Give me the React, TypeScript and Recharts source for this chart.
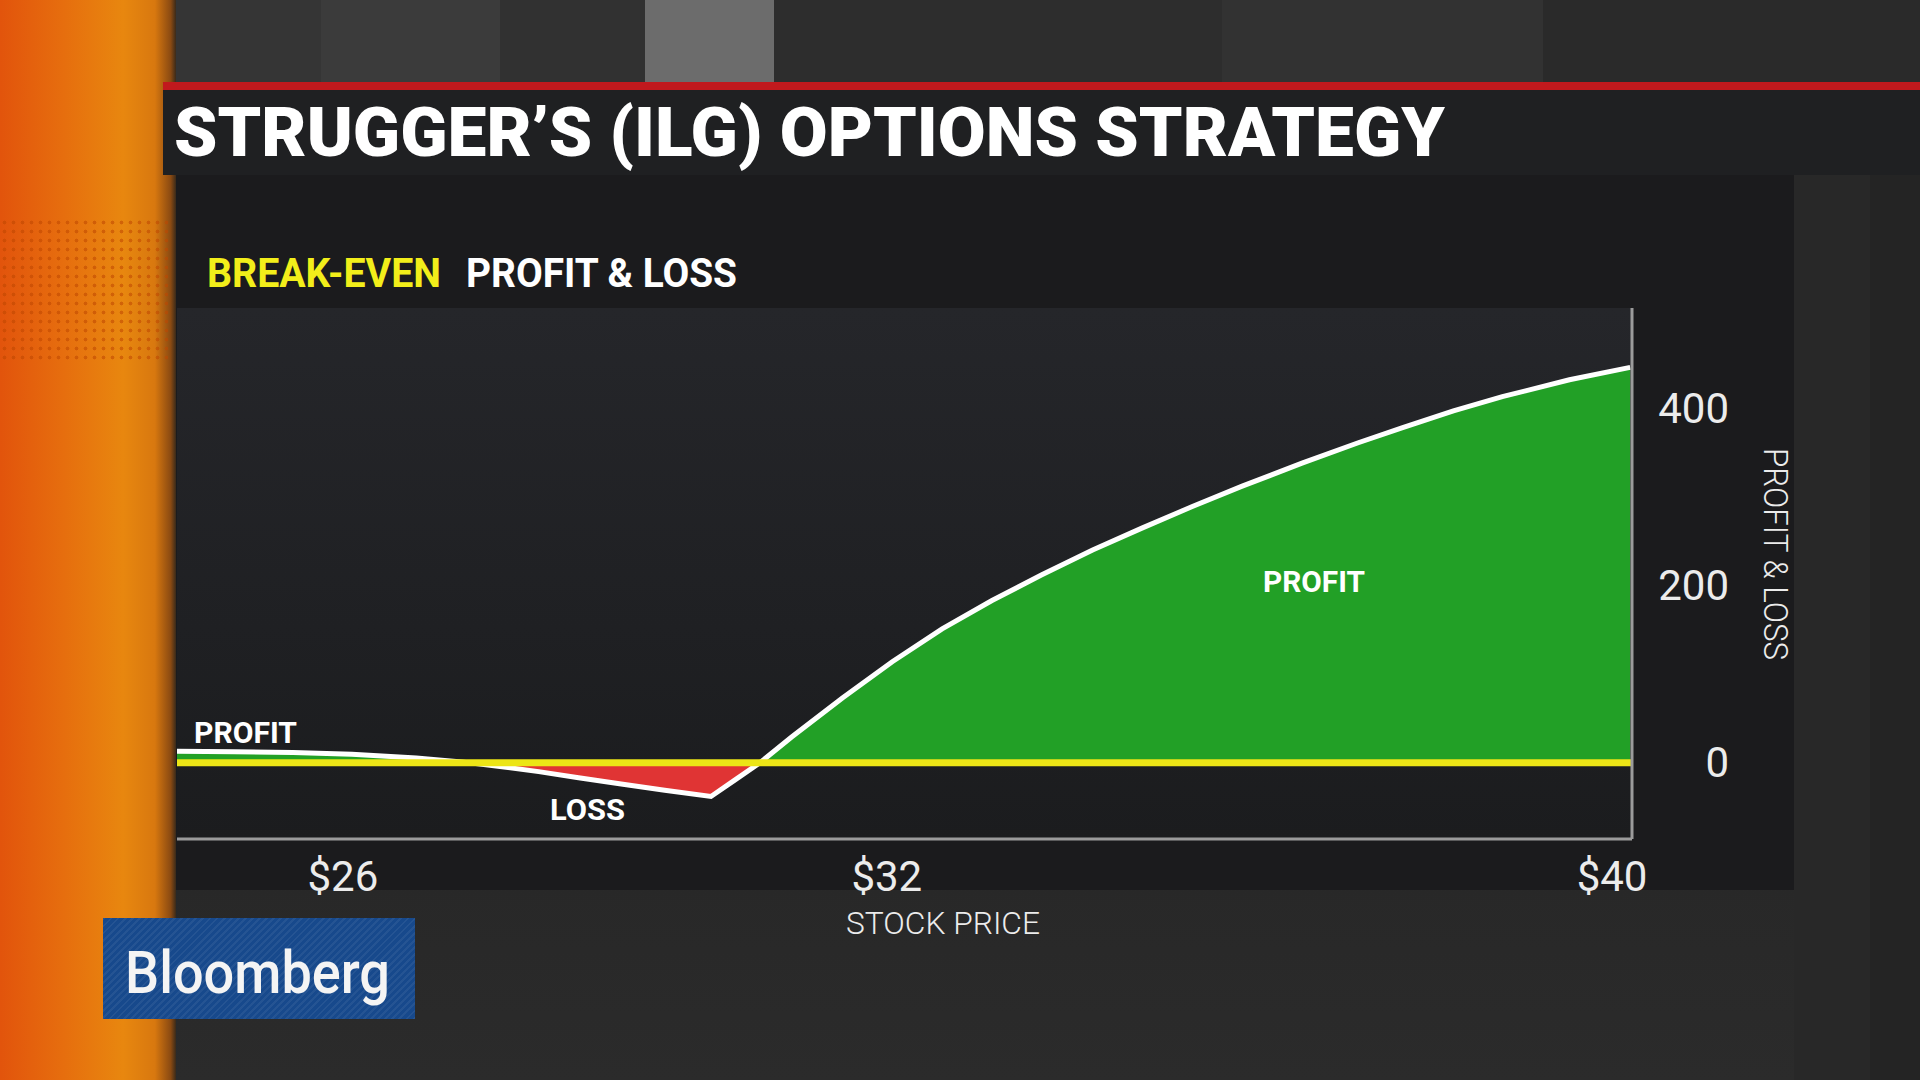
import { ComposedChart, Area, XAxis, YAxis, ReferenceLine } from 'recharts';

// stock price at expiry ($) and strategy profit & loss
const prices = [
  24.17, 24.8, 25.45, 26.1, 26.81, 27.31, 27.8, 28.16, 28.6, 29.07, 29.55, 30.06,
  30.33, 30.6, 30.95, 31.51, 32.06, 32.61, 33.16, 33.71, 34.27, 34.82, 35.37,
  35.92, 36.58, 37.2, 37.69, 38.25, 38.79, 39.53, 40.2,
];
const pnl = [
  13, 12.5, 11.5, 9.5, 5.5, 1, -5, -10, -17, -24, -31, -38,
  -19, 0, 29, 73, 114, 151, 183, 212, 240, 265, 289,
  312, 338, 361, 378, 397, 413, 432, 446,
];
const priceTicks = [26, 32, 40];
const pnlTicks = [0, 200, 400];

const data = prices.map((price, i) => ({ price, pnl: pnl[i] }));
const maxPnl = Math.max(...pnl);
const minPnl = Math.min(...pnl);
const zeroOffset = maxPnl / (maxPnl - minPnl);

const FONT = 'Roboto, "Liberation Sans", sans-serif';

const PriceTick = ({ x, payload }: any) => (
  <text x={x} y={876} textAnchor="middle" dominantBaseline="central" fill="#ececec" fontSize={42} fontFamily={FONT}>
    {`$${payload.value}`}
  </text>
);

const PnlTick = ({ y, payload }: any) => (
  <text x={1729} y={y} textAnchor="end" dominantBaseline="central" fill="#ececec" fontSize={42} fontFamily={FONT}>
    {payload.value}
  </text>
);

const topBands: Array<[number, number, string]> = [
  [175, 321, '#353535'],
  [321, 500, '#3b3b3b'],
  [500, 645, '#313131'],
  [645, 774, '#6c6c6c'],
  [774, 1222, '#2d2d2d'],
  [1222, 1543, '#323232'],
  [1543, 1920, '#2a2a2a'],
];

export default function App() {
  return (
    <div
      style={{
        position: 'absolute',
        left: 0,
        top: 0,
        width: 1920,
        height: 1080,
        overflow: 'hidden',
        background: 'linear-gradient(180deg, #2a2a2a 0%, #262626 70%, #2b2b2b 100%)',
        fontFamily: FONT,
      }}
    >
      {topBands.map(([l, r, c]) => (
        <div key={l} style={{ position: 'absolute', left: l, top: 0, width: r - l, height: 84, background: c }} />
      ))}

      {/* orange side strip */}
      <div
        style={{
          position: 'absolute',
          left: 0,
          top: 0,
          width: 176,
          height: 1080,
          background: 'linear-gradient(90deg, #e2540c 0%, #e66d0e 35%, #e8870f 70%, #d8780f 88%, #8a4a12 97%, #3a2a1a 100%)',
        }}
      />
      <div
        style={{
          position: 'absolute',
          left: 0,
          top: 218,
          width: 168,
          height: 142,
          backgroundImage: 'radial-gradient(rgba(190,70,0,0.55) 1.6px, transparent 2.2px)',
          backgroundSize: '9px 9px',
        }}
      />

      {/* right side darker strip */}
      <div style={{ position: 'absolute', left: 1794, top: 175, width: 126, height: 905, background: '#282828' }} />
      <div style={{ position: 'absolute', left: 1870, top: 175, width: 50, height: 905, background: '#242424' }} />

      {/* title bar */}
      <div style={{ position: 'absolute', left: 163, top: 82, width: 1757, height: 8, background: '#c1191d' }} />
      <div style={{ position: 'absolute', left: 163, top: 90, width: 1757, height: 85, background: '#1f2022' }} />

      {/* chart panel */}
      <div style={{ position: 'absolute', left: 176, top: 175, width: 1618, height: 715, background: '#1b1b1d' }} />
      <div
        style={{
          position: 'absolute',
          left: 177,
          top: 308,
          width: 1455,
          height: 531,
          background: 'linear-gradient(180deg, #25262a 0%, #1f2023 60%, #1b1c1e 100%)',
        }}
      />

      <div style={{ position: 'absolute', left: 0, top: 0 }}>
        <ComposedChart width={1920} height={1080} data={data} margin={{ top: 308, right: 0, bottom: 0, left: 177 }}>
          <defs>
            <linearGradient id="pnlSplit" x1="0" y1="0" x2="0" y2="1">
              <stop offset={zeroOffset} stopColor="#22a026" />
              <stop offset={zeroOffset} stopColor="#e03434" />
            </linearGradient>
          </defs>
          <XAxis
            type="number"
            dataKey="price"
            domain={[24.17, 40.22]}
            ticks={priceTicks}
            height={241}
            axisLine={{ stroke: '#9b9b9b', strokeWidth: 3 }}
            tickLine={false}
            tick={<PriceTick />}
            allowDataOverflow
          />
          <YAxis
            orientation="right"
            type="number"
            domain={[-86, 513]}
            ticks={pnlTicks}
            width={288}
            axisLine={{ stroke: '#9b9b9b', strokeWidth: 3 }}
            tickLine={false}
            tick={<PnlTick />}
            allowDataOverflow
          />
          <Area
            type="linear"
            dataKey="pnl"
            baseValue={0}
            fill="url(#pnlSplit)"
            fillOpacity={1}
            stroke="none"
            isAnimationActive={false}
            dot={false}
            activeDot={false}
          />
          <ReferenceLine y={0} stroke="#ece516" strokeWidth={7} />
          <Area
            type="linear"
            dataKey="pnl"
            baseValue={0}
            fill="none"
            stroke="#ffffff"
            strokeWidth={5}
            isAnimationActive={false}
            dot={false}
            activeDot={false}
          />
        </ComposedChart>
      </div>

      {/* Bloomberg box */}
      <div
        style={{
          position: 'absolute',
          left: 103,
          top: 918,
          width: 312,
          height: 101,
          background: '#17498c',
          backgroundImage: 'repeating-linear-gradient(135deg, rgba(255,255,255,0.06) 0px, rgba(255,255,255,0.06) 2px, transparent 2px, transparent 5px)',
        }}
      />

      <svg width={1920} height={1080} style={{ position: 'absolute', left: 0, top: 0, pointerEvents: 'none' }} fontFamily={FONT}>
        <text x={174} y={156} fontSize={68} fontWeight={900} fill="#ffffff" textLength={1271} lengthAdjust="spacingAndGlyphs">
          STRUGGER’S (ILG) OPTIONS STRATEGY
        </text>
        <text x={207} y={287} fontSize={40} fontWeight={700} fill="#f2ee1a" textLength={234} lengthAdjust="spacingAndGlyphs">
          BREAK-EVEN
        </text>
        <text x={466} y={287} fontSize={40} fontWeight={700} fill="#ffffff" textLength={271} lengthAdjust="spacingAndGlyphs">
          PROFIT &amp; LOSS
        </text>
        <text x={194} y={743} fontSize={30} fontWeight={700} fill="#ffffff" textLength={103} lengthAdjust="spacingAndGlyphs">
          PROFIT
        </text>
        <text x={550} y={820} fontSize={30} fontWeight={700} fill="#ffffff" textLength={75} lengthAdjust="spacingAndGlyphs">
          LOSS
        </text>
        <text x={1263} y={592} fontSize={30} fontWeight={700} fill="#ffffff" textLength={102} lengthAdjust="spacingAndGlyphs">
          PROFIT
        </text>
        <text x={943} y={934} fontSize={32} fontWeight={300} fill="#ececec" textAnchor="middle" textLength={194} lengthAdjust="spacingAndGlyphs">
          STOCK PRICE
        </text>
        <text
          x={1775}
          y={554}
          fontSize={33}
          fontWeight={300}
          fill="#ececec"
          textAnchor="middle"
          dominantBaseline="central"
          textLength={212}
          lengthAdjust="spacingAndGlyphs"
          transform="rotate(90 1775 554)"
        >
          PROFIT &amp; LOSS
        </text>
        <text x={125} y={993} fontSize={60} fontWeight={500} fill="#f4f4f4" textLength={265} lengthAdjust="spacingAndGlyphs">
          Bloomberg
        </text>
      </svg>
    </div>
  );
}
